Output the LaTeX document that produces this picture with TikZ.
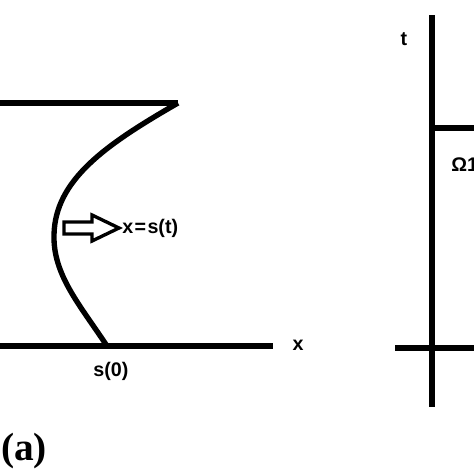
\documentclass[tikz,border=0pt]{standalone}
\usepackage{fontspec}
\setmainfont{Liberation Sans}
\newfontfamily\serifbf{Liberation Serif}
\tikzset{
  thickline/.style={line width=3.8pt},
  lbl/.style={font=\bfseries\fontsize{14}{16}\selectfont, inner sep=0pt},
}
\begin{document}
\begin{tikzpicture}[x=0.025cm,y=-0.025cm]
\useasboundingbox (0,0) rectangle (474,474);
% left picture (a)
\coordinate (top-l) at (0,103);
\coordinate (tip) at (178,103);
\coordinate (foot) at (107,346);
\coordinate (ax-l) at (0,346);
\coordinate (ax-r) at (273,346);
\draw[thickline] (top-l) -- (tip);
\draw[thickline, line join=miter] (tip) .. controls (105,145) and (55,180) .. (54,235)
  .. controls (53,275) and (80,305) .. (foot);
\draw[thickline] (ax-l) -- (ax-r);
\node[lbl] (x-lab) at (298,345) {x};
\node[lbl] (s0) at (111,371) {s(0)};
\node[lbl, anchor=west] (st) at (122,228) {x{\kern1pt}={\kern1pt}s(t)};
\draw[line width=2.4pt, line join=miter] (64,222) -- (92,222) -- (92,215) -- (119,228)
  -- (92,241) -- (92,234) -- (64,234) -- cycle;
\node[font=\serifbf\bfseries\fontsize{28}{30}\selectfont, inner sep=0pt] (cap-a) at (24,451) {(a)};
% right picture
\coordinate (t-top) at (432,15);
\coordinate (t-bot) at (432,407);
\draw[thickline] (t-top) -- (t-bot);
\draw[thickline] (432,128) -- (474,128);
\draw[thickline] (395,348) -- (474,348);
\node[lbl] (t-lab) at (404,39) {t};
\node[lbl, anchor=west] (omega) at (451,165) {Ω1};
\end{tikzpicture}
\end{document}
